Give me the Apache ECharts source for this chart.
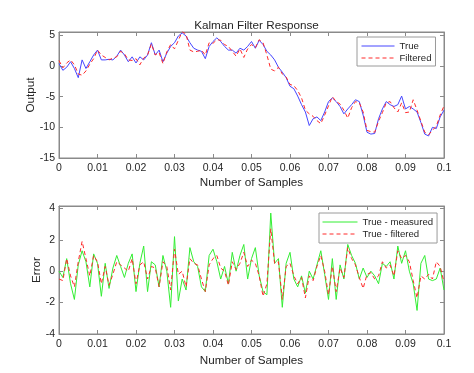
<!DOCTYPE html>
<html><head><meta charset="utf-8">
<script src="https://cdn.jsdelivr.net/npm/echarts@6/dist/echarts.min.js"></script>
<style>html,body{margin:0;padding:0;background:#fff}#c{width:474px;height:373px}</style>
</head><body><div id="c"></div>
<script>
const dt = 0.001;
const trueOut = [0.4,-0.7,-0.2,0.7,-0.4,-1.9,1.0,-0.4,0.7,1.8,
2.6,1.0,1.0,1.1,1.0,1.6,2.6,1.8,0.7,1.5,
0.5,1.5,1.0,1.8,3.8,1.8,2.6,0.7,2.1,3.2,
3.8,4.9,5.4,4.9,3.8,2.9,2.6,2.4,1.2,3.2,
4.0,4.6,4.0,3.2,2.6,2.6,2.1,2.9,2.6,3.2,
4.0,2.9,4.2,3.5,2.4,1.8,1.0,-0.2,-1.0,-1.9,
-3.3,-3.7,-4.9,-6.3,-7.5,-9.7,-8.6,-8.3,-8.9,-7.5,
-5.8,-5.2,-5.8,-6.6,-7.8,-7.0,-6.3,-5.5,-5.8,-8.0,
-10.8,-11.1,-11.0,-8.6,-7.0,-5.8,-6.3,-6.6,-6.3,-4.9,
-7.0,-6.6,-7.0,-7.5,-9.2,-11.1,-11.4,-10.0,-10.2,-8.3,-7.2];
const filteredOut = [0.9,-0.3,0.5,1.0,0.2,-1.3,-1.5,-0.8,0.3,1.2,
2.6,1.8,1.4,1.0,1.3,1.5,2.4,2.0,1.0,0.9,
1.2,0.2,1.3,1.8,3.6,1.8,2.2,0.4,2.3,3.5,
2.8,4.2,5.6,5.2,2.6,2.3,2.4,2.6,1.8,3.8,
3.7,4.3,4.2,3.5,3.2,2.4,1.6,2.8,1.4,2.8,
3.5,3.0,4.3,3.8,1.8,-0.5,-0.8,-0.2,-1.3,-1.8,
-3.0,-3.2,-4.0,-5.2,-7.2,-7.8,-8.2,-8.9,-9.4,-8.0,
-6.5,-5.0,-5.8,-6.2,-7.2,-8.5,-6.8,-5.8,-6.0,-7.5,
-10.5,-10.7,-10.8,-9.0,-7.6,-6.0,-5.8,-6.8,-7.5,-6.0,
-7.6,-7.5,-5.5,-7.2,-9.0,-10.8,-11.2,-10.5,-9.8,-8.0,-6.5];
const errMeasured = [0.0,-0.4,0.8,-0.8,-1.8,0.4,1.3,0.6,-1.0,1.1,
0.5,-1.6,0.5,-1.1,0.2,1.0,0.3,-0.4,0.5,1.1,
-1.3,0.5,1.6,-1.3,0.6,0.4,-1.0,1.0,0.0,-2.3,
2.2,-1.9,-0.5,-1.2,1.5,0.6,0.3,-1.0,-1.3,1.0,
1.4,0.6,-0.5,0.3,-0.8,1.2,0.0,1.0,1.7,-0.5,
0.8,1.5,-0.3,-1.3,-1.5,3.7,0.5,0.8,-2.3,0.5,
1.2,-0.5,-1.0,-0.3,-1.4,0.0,-0.5,0.4,1.3,-0.2,
-1.8,0.8,-1.8,0.4,-0.5,1.7,1.0,0.5,-0.5,0.2,
-0.4,0.0,-0.3,-0.8,0.5,0.3,0.6,-0.5,1.6,0.5,
1.3,0.0,-0.8,-2.5,0.5,1.0,-0.5,-0.6,-0.5,0.2,-1.2];
const errFiltered = [-0.5,-0.6,0.8,-0.3,-1.0,0.6,1.9,0.8,-0.3,1.0,
0.6,-0.8,0.3,-0.9,-0.2,0.6,0.4,0.2,0.0,0.8,
-0.8,0.4,0.6,-0.5,0.3,0.2,-1.0,0.6,0.3,-1.2,
1.4,-0.2,0.0,-1.0,0.8,0.5,0.4,-0.5,-1.3,0.4,
0.8,1.0,0.2,0.0,-0.9,0.6,0.1,0.5,1.2,0.3,
0.7,0.5,-0.3,-1.6,-0.8,2.7,0.5,0.6,-1.8,0.3,
0.5,-0.3,-0.8,-0.4,-1.7,-0.3,-0.6,0.3,1.0,0.0,
-1.5,0.3,-1.3,0.2,-0.4,1.5,0.8,0.4,-0.4,-1.1,
-0.2,-0.1,-0.5,-0.3,0.6,0.2,0.4,-0.3,1.3,0.8,
1.0,0.6,-0.6,-1.7,-0.3,-0.5,-0.2,-0.5,0.6,0.3,-0.7];
const xTicks = [0,0.01,0.02,0.03,0.04,0.05,0.06,0.07,0.08,0.09,0.1];
const yTicksTop = [-15,-10,-5,0,5];
const yTicksBottom = [-4,-2,0,2,4];

const pairs = arr => arr.map((v,i) => [+(i*dt).toFixed(4), v]);
const FONT = '"Liberation Sans", Arial, sans-serif';
const TXT = '#262626';
const LINE = '#8a8a8a';

function xAx(grid, pos, show, gap){
  return {type:'value', gridIndex:grid, position:pos, min:0, max:0.1, interval:0.01,
    axisLine:{show:true, onZero:false, lineStyle:{color:LINE}},
    axisTick:{show:true, inside:true, length:4, lineStyle:{color:LINE}},
    splitLine:{show:false},
    axisLabel:{show:show, color:TXT, fontSize:10.5, fontFamily:FONT, margin:5,
      formatter: v => { const r = +v.toFixed(3); return xTicks.some(t=>Math.abs(t-r)<1e-9) ? String(r) : ''; }},
    name: show ? 'Number of Samples' : '', nameLocation:'middle', nameGap:gap || 19, nameMoveOverlap:false,
    nameTextStyle:{color:TXT, fontSize:11.7, fontFamily:FONT}};
}
function yAx(grid, pos, show, min, max, ticks, nm, gap){
  const step = ticks[1]-ticks[0];
  return {type:'value', gridIndex:grid, position:pos, min:min, max:max, interval:step,
    axisLine:{show:true, onZero:false, lineStyle:{color:LINE}},
    axisTick:{show:true, inside:true, length:4, lineStyle:{color:LINE}},
    splitLine:{show:false},
    axisLabel:{show:show, color:TXT, fontSize:10.5, fontFamily:FONT, margin:4, showMaxLabel:false,
      formatter: v => ticks.some(t=>Math.abs(t-v)<1e-9) ? String(v) : ''},
    name: show ? nm : '', nameLocation:'middle', nameGap:gap || 12, nameMoveOverlap:false,
    nameTextStyle:{color:TXT, fontSize:11.7, fontFamily:FONT}};
}
const legendCommon = {orient:'vertical', itemHeight:10, itemGap:2,
  backgroundColor:'#fff', borderColor:'#9a9a9a', borderWidth:1, borderRadius:0,
  itemStyle:{opacity:0, borderWidth:0}, lineStyle:{width:1},
  textStyle:{color:TXT, fontSize:9.6, fontFamily:FONT}};

const chart = echarts.init(document.getElementById('c'), null, {renderer:'canvas'});
chart.setOption({
  animation:false,
  backgroundColor:'#fff',
  title:{text:'Kalman Filter Response', left:251.5, top:15, textAlign:'center',
    textStyle:{color:TXT, fontSize:11.7, fontWeight:'normal', fontFamily:FONT}},
  grid:[
    {left:59, right:30, top:32, height:126, show:true, borderColor:LINE, borderWidth:1, backgroundColor:'#fff'},
    {left:59, right:30, top:206, height:128, show:true, borderColor:LINE, borderWidth:1, backgroundColor:'#fff'}
  ],
  xAxis:[xAx(0,'bottom',true,19), xAx(0,'top',false), xAx(1,'bottom',true,21), xAx(1,'top',false)],
  yAxis:[yAx(0,'left',true,-15,5.55,yTicksTop,'Output',22), yAx(0,'right',false,-15,5.55,yTicksTop,''),
         yAx(1,'left',true,-4,4.15,yTicksBottom,'Error',16), yAx(1,'right',false,-4,4.15,yTicksBottom,'')],
  legend:[
    Object.assign({}, legendCommon, {data:['True','Filtered'], left:357, top:37, itemWidth:33, padding:[4,4,3,4]}),
    Object.assign({}, legendCommon, {data:['True - measured','True - filtered'], left:319, top:213, itemWidth:35, padding:[4,4,4,3]})
  ],
  series:[
    {name:'True', type:'line', xAxisIndex:0, yAxisIndex:0, data:pairs(trueOut), symbol:'none',
     lineStyle:{color:'#4646ff', width:1}, itemStyle:{color:'#4646ff'}},
    {name:'Filtered', type:'line', xAxisIndex:0, yAxisIndex:0, data:pairs(filteredOut), symbol:'none',
     lineStyle:{color:'#ff2a2a', width:1, type:[4,3]}, itemStyle:{color:'#ff2a2a'}},
    {name:'True - measured', type:'line', xAxisIndex:2, yAxisIndex:2, data:pairs(errMeasured), symbol:'none',
     lineStyle:{color:'#33ee33', width:1}, itemStyle:{color:'#33ee33'}},
    {name:'True - filtered', type:'line', xAxisIndex:2, yAxisIndex:2, data:pairs(errFiltered), symbol:'none',
     lineStyle:{color:'#ff2a2a', width:1, type:[4,3]}, itemStyle:{color:'#ff2a2a'}}
  ]
});
</script></body></html>
